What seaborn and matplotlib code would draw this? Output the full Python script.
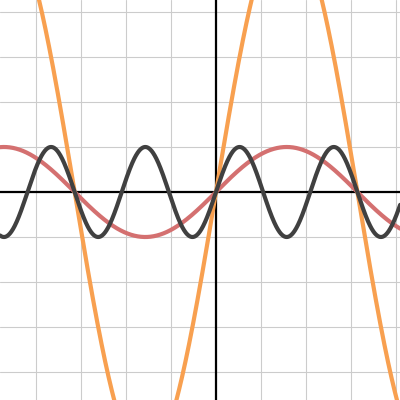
import numpy as np
import pandas as pd
import matplotlib.pyplot as plt
import seaborn as sns

# curves: sin(x), 6 sin(x), sin(3x)
x = np.linspace(-4.8, 4.1, 1200)
red_y = np.sin(x)
orange_y = 6 * np.sin(x)
black_y = np.sin(3 * x)

df = pd.DataFrame({'x': x, 'red': red_y, 'orange': orange_y, 'black': black_y})

sns.set_style('white')
fig = plt.figure(figsize=(4, 4), dpi=100)
ax = fig.add_axes([0, 0, 1, 1])

for v in range(-5, 6):
    ax.axvline(v, color='#cccccc', lw=0.8, zorder=0)
    ax.axhline(v, color='#cccccc', lw=0.8, zorder=0)
ax.axvline(0, color='black', lw=1.6, zorder=1)
ax.axhline(0, color='black', lw=1.6, zorder=1)

sns.lineplot(data=df, x='x', y='red', color='#d47070', lw=3, ax=ax, zorder=2)
sns.lineplot(data=df, x='x', y='orange', color='#f8a050', lw=3, ax=ax, zorder=3)
sns.lineplot(data=df, x='x', y='black', color='#404040', lw=3, ax=ax, zorder=4)

ax.set_xlim(-216 / 45, 184 / 45)
ax.set_ylim(-208 / 45, 192 / 45)
ax.set_xticks([])
ax.set_yticks([])
ax.set_xlabel('')
ax.set_ylabel('')
for s in ax.spines.values():
    s.set_visible(False)

plt.savefig('out.png', dpi=100)
